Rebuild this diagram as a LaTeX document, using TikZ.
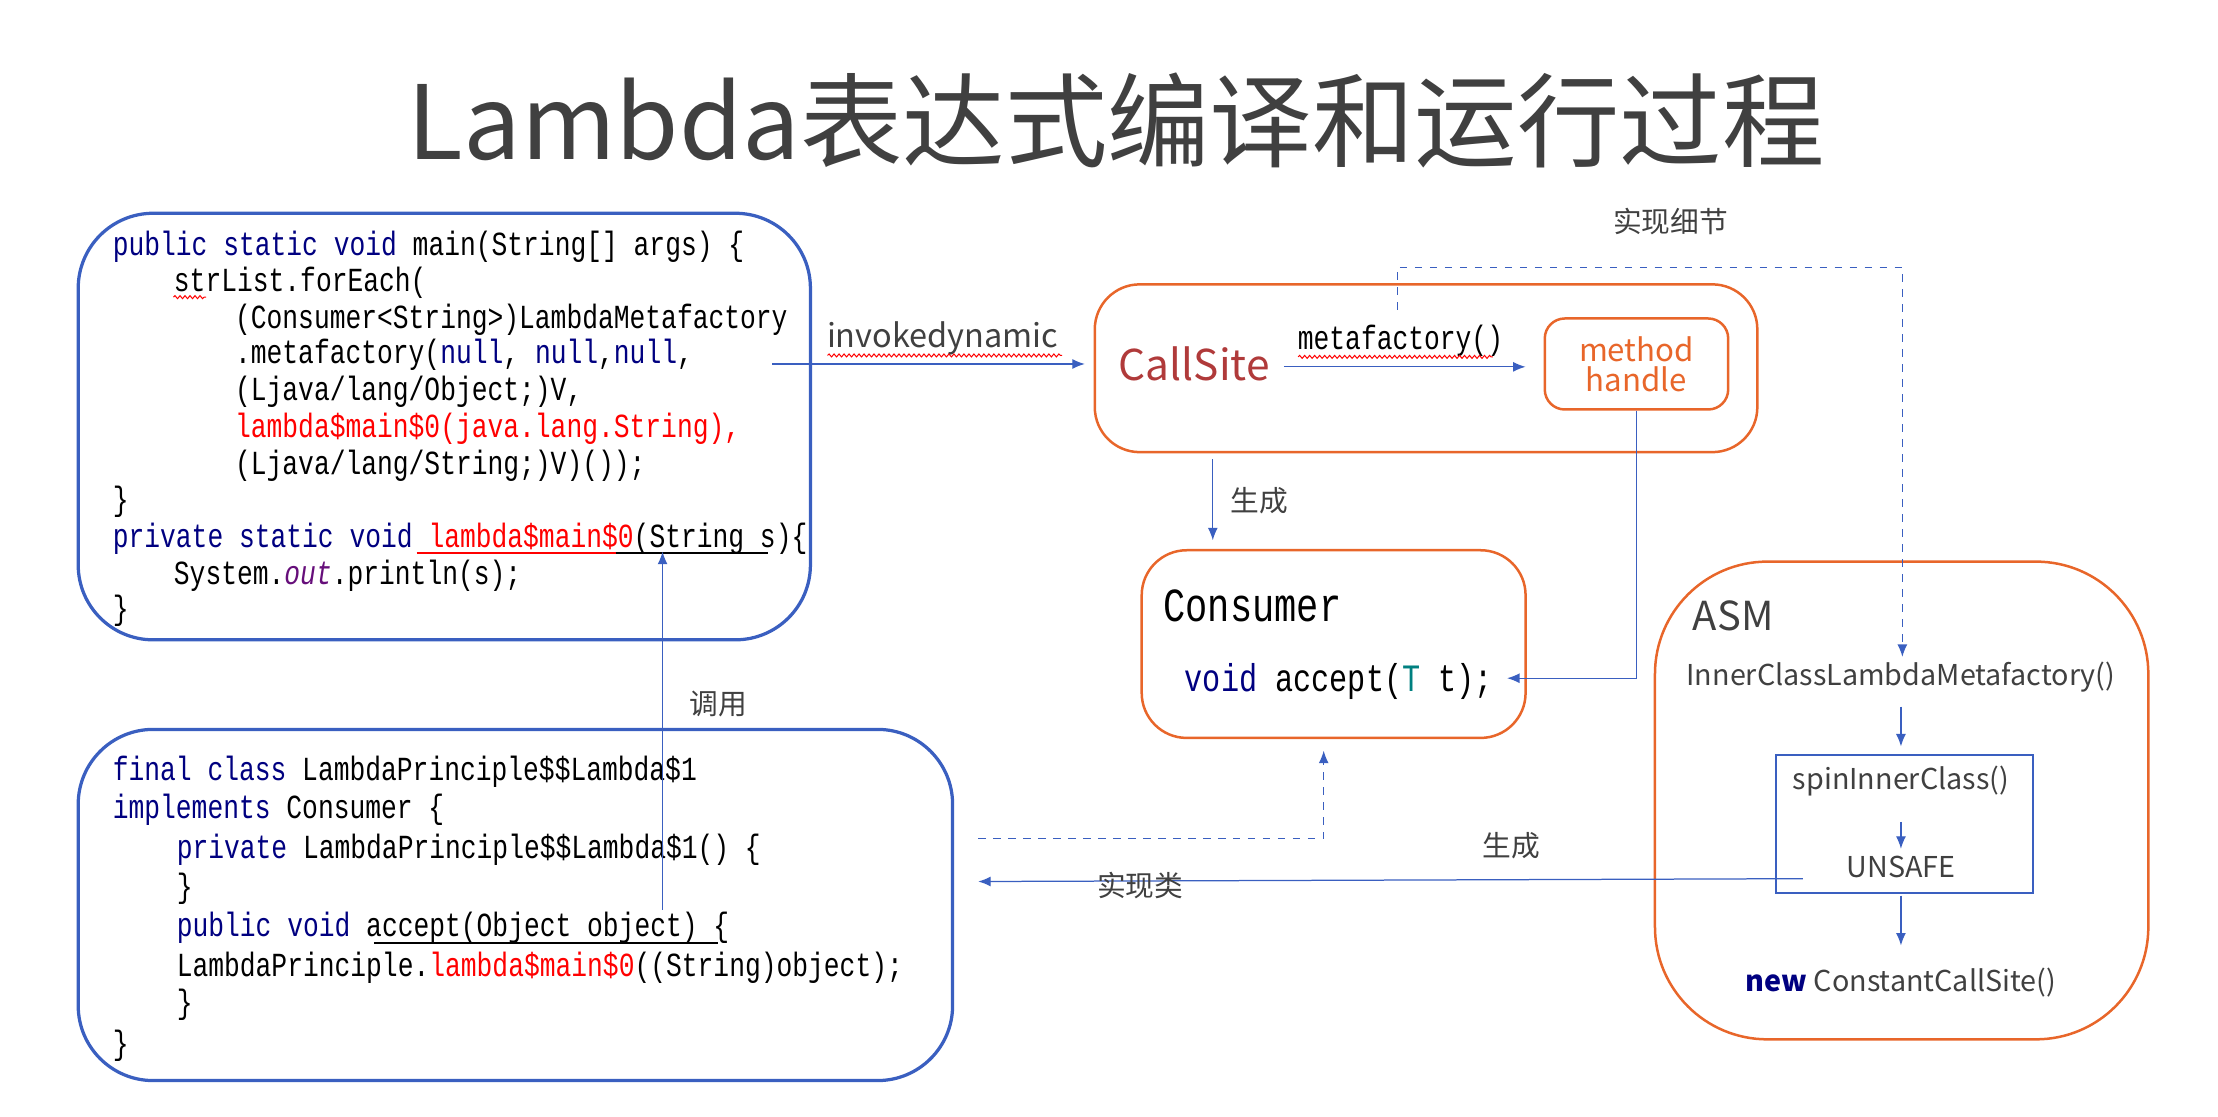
\documentclass[tikz,border=0pt]{standalone}
\usepackage{fontspec}
\setmainfont{Noto Sans CJK SC}
\newfontfamily\code{Liberation Mono}[FakeStretch=0.78]
\usetikzlibrary{arrows.meta,decorations.pathmorphing}
\definecolor{kw}{HTML}{000080}
\definecolor{bl}{HTML}{3A5FC0}
\definecolor{og}{HTML}{E8662A}
\definecolor{tx}{HTML}{404040}
\definecolor{cs}{HTML}{B03A3A}
\begin{document}
\begin{tikzpicture}[x=0.02cm,y=-0.02cm,
  cd/.style={anchor=base west,inner sep=0,font=\code\fontsize{13.5}{15}\selectfont},
  sn/.style={font=\fontsize{11.5}{13}\selectfont,text=tx,inner sep=1pt},
  sa/.style={font=\fontsize{11.5}{13}\selectfont,text=tx,inner sep=1pt},
  bbox/.style={draw=bl,line width=1.3pt,rounded corners=30},
  obox/.style={draw=og,line width=1pt,rounded corners=18},
  arr/.style={draw=bl,-{Latex[length=5pt,width=4pt]},line width=0.5pt},
  darr/.style={arr,dashed},
  wav/.style={draw=red,line width=0.4pt,decorate,decoration={snake,amplitude=0.6pt,segment length=2pt}}]
\useasboundingbox (0,0) rectangle (1560,785);
\node[font=\fontsize{41}{45}\selectfont,text=tx] (title) at (785,85) {Lambda表达式编译和运行过程};
% boxes
\draw[bbox] (55,150) rectangle (570,450);
\draw[bbox] (55,513) rectangle (670,760);
\draw[obox] (770,200) rectangle (1236,318);
\node[draw=og,line width=1pt,rounded corners=8,minimum width=129*0.02cm,minimum height=64*0.02cm,text=og,font=\fontsize{12.5}{14}\selectfont,align=center] (mh) at (1151,256) {method\\[-2pt]handle};
\draw[obox] (803,387) rectangle (1073,519);
\draw[obox,rounded corners=45] (1164,395) rectangle (1511,731);
\draw[draw=bl,line width=1pt] (1249,531) rectangle (1430,628);
% code box 1
\node[cd] at (79,180) {\textcolor{kw}{public static void} main(String[] args) \{};
\node[cd] (sl) at (122,205) {strList.forEach(};
\draw[wav] (122,209) -- (145,209);
\node[cd] at (165,231) {(Consumer<String>)LambdaMetafactory};
\node[cd] at (165,256) {.metafactory(\textcolor{kw}{null}, \textcolor{kw}{null},\textcolor{kw}{null},};
\node[cd] at (165,282) {(Ljava/lang/Object;)V,};
\node[cd,text=red] at (165,308) {lambda\$main\$0(java.lang.String),};
\node[cd] at (165,334) {(Ljava/lang/String;)V)());};
\node[cd] at (79,359) {\}};
\node[cd] at (79,385) {\textcolor{kw}{private static void} \textcolor{red}{lambda\$main\$0}(String s)\{};
\draw[red,line width=0.8pt] (293,389) -- (433,389);
\draw[black,line width=0.8pt] (433,389) -- (540,389);
\node[cd] at (122,411) {System.\textcolor[HTML]{660E7A}{\itshape out}.println(s);};
\node[cd] at (79,436) {\}};
% code box 2
\node[cd] at (79,549) {\textcolor{kw}{final class} LambdaPrinciple\$\$Lambda\$1};
\node[cd] at (79,576) {\textcolor{kw}{implements} Consumer \{};
\node[cd] at (124,604) {\textcolor{kw}{private} LambdaPrinciple\$\$Lambda\$1() \{};
\node[cd] at (124,631) {\}};
\node[cd] (acc) at (124,659) {\textcolor{kw}{public void} accept(Object object) \{};
\draw[black,line width=0.8pt] (263,663) -- (505,663);
\node[cd] at (124,687) {LambdaPrinciple.\textcolor{red}{lambda\$main\$0}((String)object);};
\node[cd] at (124,713) {\}};
\node[cd] at (79,742) {\}};
% callsite
\node[text=cs,font=\fontsize{17}{19}\selectfont] (cs) at (840,256) {CallSite};
\node[cd,anchor=base] (mf) at (985,246) {metafactory()};
\draw[wav] (913,251) -- (1050,251);
\coordinate (mfs) at (903,258);
\draw[arr] (mfs) -- (1073,258);
% invokedynamic
\node[font=\fontsize{13}{14}\selectfont,text=tx] (inv) at (663,238) {invokedynamic};
\draw[wav] (582,250) -- (747,250);
\coordinate (invs) at (543,256);
\draw[arr] (invs) -- (763,256);
% consumer
\node[cd,font=\code\fontsize{19}{20}\selectfont] (con) at (818,437) {Consumer};
\node[cd,font=\code\fontsize{15.5}{17}\selectfont] (vacc) at (833,486) {\textcolor{kw}{void} accept(\textcolor[HTML]{008080}{T} t);};
% generate
\coordinate (g1) at (853,323);
\draw[arr] (g1) -- (853,380);
\node[sn] (gen1) at (886,352) {生成};
% mh to consumer
\draw[arr] (mh.south) |- (1060,477);
% dashed detail
\coordinate (d0) at (983,218);
\draw[darr] (d0) |- (1338,188) -- (1338,462);
\node[sn] (det) at (1175,156) {实现细节};
% ASM
\node[font=\fontsize{16}{18}\selectfont,text=tx] (asm) at (1219,433) {ASM};
\node[sa] (icl) at (1337,476) {InnerClassLambdaMetafactory()};
\node[sa] (spin) at (1337,549) {spinInnerClass()};
\node[sa] (uns) at (1337,610) {UNSAFE};
\node[sa] (ccs) at (1337,691) {\textcolor{kw}{\bfseries new} ConstantCallSite()};
\draw[arr] (1337,497) -- (1337,525);
\draw[arr] (1337,578) -- (1337,597);
\draw[arr] (1337,630) -- (1337,665);
% UNSAFE to impl
\coordinate (u0) at (1268,618);
\draw[arr] (u0) -- (688,620);
\node[sn] (impl) at (802,623) {实现类};
\node[sn] (gen2) at (1063,595) {生成};
% dashed to consumer
\coordinate (d1) at (688,590);
\draw[darr] (d1) -| (931,528);
% call
\coordinate (c0) at (466,640);
\draw[arr] (c0) -- (466,388);
\node[sn] (call) at (505,495) {调用};
\end{tikzpicture}
\end{document}
